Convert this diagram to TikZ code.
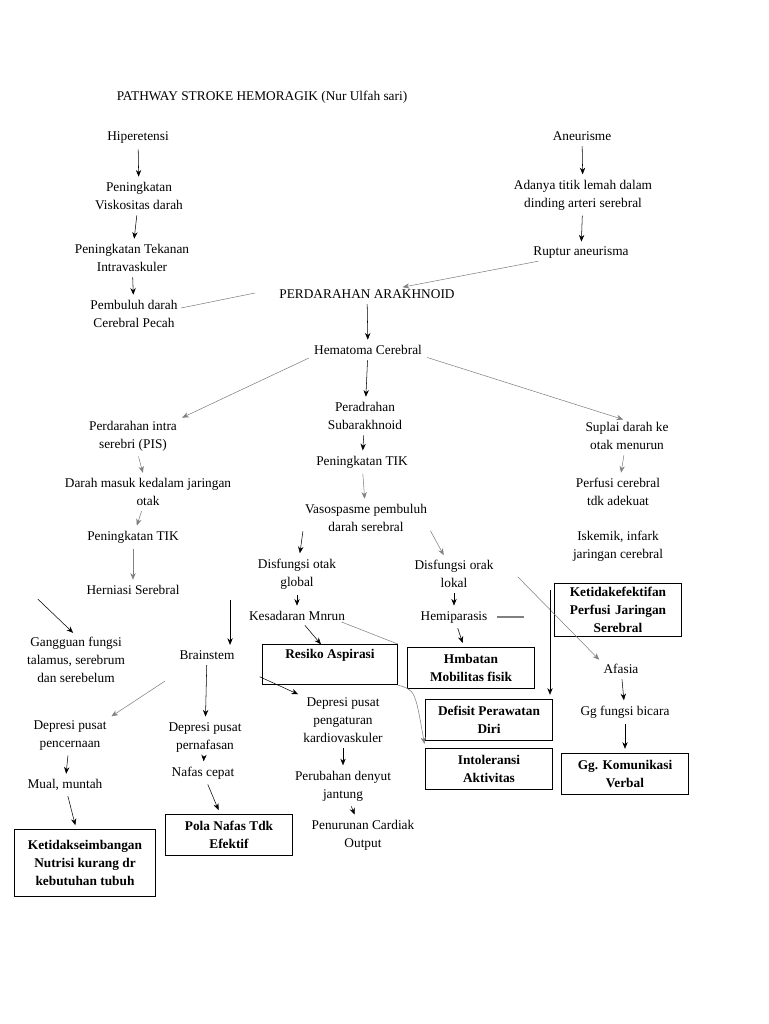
\documentclass[tikz,border=0pt]{standalone}
\usepackage{fontspec}
\setmainfont{Liberation Serif}
\usetikzlibrary{arrows.meta}
\tikzset{
  t/.style={align=center,inner sep=1pt,font=\fontsize{10}{13.5}\selectfont},
  box/.style={t,draw,thick,font=\fontsize{10}{13.5}\selectfont\bfseries,inner sep=3pt},
  arr/.style={-{Stealth[length=5pt,width=4pt]},thin,shorten >=3pt,shorten <=3pt},
  garr/.style={arr,gray},
  gline/.style={gray,thin},
}
\begin{document}
\begin{tikzpicture}[x=0.75pt,y=-0.75pt]
\useasboundingbox (0,0) rectangle (768,1024);
\node[t] (title) at (262,97) {PATHWAY STROKE HEMORAGIK (Nur Ulfah sari)};
% left column
\node[t] (hip) at (138,138) {Hiperetensi};
\node[t] (visk) at (139,196) {Peningkatan\\Viskositas darah};
\node[t] (tek) at (132,258) {Peningkatan Tekanan\\Intravaskuler};
\node[t] (pecah) at (134,314) {Pembuluh darah\\Cerebral Pecah};
% right column
\node[t] (aneu) at (582,136) {Aneurisme};
\node[t] (titik) at (583,195) {Adanya titik lemah dalam\\dinding arteri serebral};
\node[t] (ruptur) at (581,253) {Ruptur aneurisma};
% middle
\node[t] (perd) at (367,294) {PERDARAHAN ARAKHNOID};
\node[t] (hema) at (368,350) {Hematoma Cerebral};
\node[t] (pis) at (133,436) {Perdarahan intra\\serebri (PIS)};
\node[t] (sub) at (365,416) {Peradrahan\\Subarakhnoid};
\node[t] (supl) at (627,436) {Suplai darah ke\\otak menurun};
\node[t] (darah) at (148,492) {Darah masuk kedalam jaringan\\otak};
\node[t] (tikm) at (362,462) {Peningkatan TIK};
\node[t] (perf) at (618,492) {Perfusi cerebral\\tdk adekuat};
\node[t] (tikl) at (133,537) {Peningkatan TIK};
\node[t] (vaso) at (366,518) {Vasospasme pembuluh\\darah serebral};
\node[t] (isk) at (618,546) {Iskemik, infark\\jaringan cerebral};
\node[t] (hern) at (133,590) {Herniasi Serebral};
\node[t] (glob) at (297,574) {Disfungsi otak\\global};
\node[t] (lok) at (454,574) {Disfungsi orak\\lokal};
\node[box,text width=118pt*0.75/0.75*0.76] (kperf) at (618,610) {Ketidakefektifan\\Perfusi Jaringan\\Serebral};
\node[t] (kes) at (297,616) {Kesadaran Mnrun};
\node[t] (hemi) at (454,617) {Hemiparasis};
\node[t] (gang) at (76,660) {Gangguan fungsi\\talamus, serebrum\\dan serebelum};
\node[t] (brain) at (207,655) {Brainstem};
\node[box,minimum width=101pt,minimum height=30pt,anchor=north west] (asp) at (262,644) {};
\node[t,font=\fontsize{10}{13.5}\selectfont\bfseries] (aspt) at (330,655) {Resiko Aspirasi};
\node[box,minimum width=95pt,minimum height=31pt] (mob) at (471,668) {Hmbatan\\Mobilitas fisik};
\node[t] (afa) at (621,669) {Afasia};
\node[t] (dpc) at (70,735) {Depresi pusat\\pencernaan};
\node[t] (dpn) at (205,737) {Depresi pusat\\pernafasan};
\node[t] (dpk) at (343,720) {Depresi pusat\\pengaturan\\kardiovaskuler};
\node[box,minimum width=95pt,minimum height=31pt] (def) at (489,720) {Defisit Perawatan\\Diri};
\node[t] (bic) at (625,712) {Gg fungsi bicara};
\node[box,minimum width=95pt,minimum height=31pt] (into) at (489,769) {Intoleransi\\Aktivitas};
\node[box,minimum width=95pt,minimum height=31pt] (kom) at (625,774) {Gg. Komunikasi\\Verbal};
\node[t] (mual) at (65,785) {Mual, muntah};
\node[t] (nafas) at (203,773) {Nafas cepat};
\node[t] (jant) at (343,786) {Perubahan denyut\\jantung};
\node[box,minimum width=106pt,minimum height=50pt] (nutr) at (85,863) {Ketidakseimbangan\\Nutrisi kurang dr\\kebutuhan tubuh};
\node[box,minimum width=95pt,minimum height=31pt] (pola) at (229,835) {Pola Nafas Tdk\\Efektif};
\node[t] (card) at (363,835) {Penurunan Cardiak\\Output};
% connectors
\draw[arr] (hip) -- (visk);
\draw[arr] (visk) -- (tek);
\draw[arr] (tek) -- (pecah);
\draw[arr] (aneu) -- (titik);
\draw[arr] (titik) -- (ruptur);
\draw[gline] (pecah.east) ++(2,-6) coordinate (pe) -- (255,293) coordinate (pf);
\draw[garr] (ruptur) -- (perd);
\draw[arr] (perd) -- (hema);
\draw[garr] (hema.south west) -- (pis.north east);
\draw[arr] (hema) -- (sub);
\draw[garr] (hema.south east) -- (supl.north);
\draw[arr] (sub) -- (tikm);
\draw[garr] (tikm) -- (vaso);
\draw[garr] (pis) -- (darah);
\draw[garr] (darah) -- (tikl);
\draw[garr] (tikl) -- (hern);
\draw[garr] (supl) -- (perf);
\draw[arr] (vaso.south west) ++(0,-6) coordinate (va) -- (glob);
\draw[garr] (vaso.south east) ++(0,-6) coordinate (vb) -- (lok);
\draw[arr] (glob) -- (kes);
\draw[arr] (lok) -- (hemi);
\draw[arr] (kes) -- (aspt);
\draw[arr] (hemi) -- (mob);
\draw[gline,very thick] (hemi.east) ++(8,0) coordinate (ha) -- ++(27,0) coordinate (hb);
\draw[garr] (lok.east) ++(20,0) coordinate (la) -- (afa.north west);
\draw[arr,shorten <=0pt] (550,590) coordinate (dl) -- (def.north east -| dl);
\draw[gline] (kes.east) ++(-5,6) coordinate (ka) -- (asp.north east);
\draw[garr,shorten <=0pt] (asp.south east) .. controls (415,690) .. (into.north west);
\draw[arr] (hern.south west) ++(-50,0) coordinate (hl) -- (gang.north);
\draw[arr] (hern.south east) ++(49,0) coordinate (hr) -- (brain.north -| hr);
\draw[garr] (brain.south west) ++(-10,18) coordinate (b1) -- (dpc.north east);
\draw[arr] (brain) -- (dpn);
\draw[arr] (brain.south east) ++(20,14) coordinate (b2) -- (dpk.north west);
\draw[arr] (afa) -- (bic);
\draw[arr] (bic) -- (kom);
\draw[arr] (dpc) -- (mual);
\draw[arr] (mual) -- (nutr);
\draw[arr] (dpn) -- (nafas);
\draw[arr] (nafas) -- (pola);
\draw[arr] (dpk) -- (jant);
\draw[arr] (jant) -- (card);
\end{tikzpicture}
\end{document}
